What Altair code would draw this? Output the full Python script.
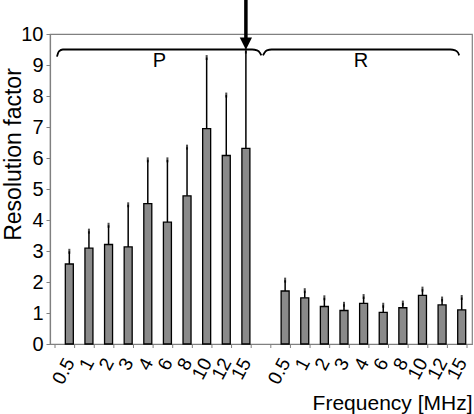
import altair as alt
import pandas as pd

# ---- data ----
freqs = ["0.5", "1", "2", "3", "4", "6", "8", "10", "12", "15"]
p_vals = [2.58, 3.09, 3.21, 3.13, 4.53, 3.93, 4.78, 6.95, 6.08, 6.31]
p_err_top = [2.99, 3.64, 3.83, 4.49, 5.94, 5.94, 6.35, 9.24, 8.03, 9.45]
r_vals = [1.71, 1.49, 1.21, 1.08, 1.31, 1.02, 1.17, 1.57, 1.26, 1.10]
r_err_top = [2.06, 1.72, 1.49, 1.28, 1.53, 1.25, 1.32, 1.77, 1.45, 1.50]
groups = ["P", "R"]
group_start = [0, 11]
n_slots = 21
bar_offset = 0.73

# brace annotation paths (x in category slots, y in data units)
brace_p_x = [0.1, 0.2, 0.4, 10.05, 10.3, 10.45, 10.52]
brace_p_y = [9.27, 9.44, 9.5, 9.5, 9.47, 9.39, 9.31]
brace_r_x = [10.6, 10.67, 10.8, 11.04, 20.15, 20.4, 20.55, 20.6]
brace_r_y = [9.31, 9.39, 9.47, 9.5, 9.5, 9.47, 9.39, 9.31]
label_x = [5.32, 15.6]
label_y = [9.14, 9.13]
arrow_x = [9.73]
arrow_top = [11.2]
arrow_bottom = [9.85]
arrow_head_y = [9.69]

FONT = "Liberation Sans"
GRAY = "#808080"

rows = []
for g, start, vals, errs in zip(groups, group_start, [p_vals, r_vals], [p_err_top, r_err_top]):
    for i, (f, v, e) in enumerate(zip(freqs, vals, errs)):
        rows.append({"group": g, "freq": f, "x": start + i + bar_offset, "value": v, "err": e})
df = pd.DataFrame(rows)

brace_rows = []
for g, xs, ys in [("P", brace_p_x, brace_p_y), ("R", brace_r_x, brace_r_y)]:
    for k, (xx, yy) in enumerate(zip(xs, ys)):
        brace_rows.append({"group": g, "k": k, "x": xx, "y": yy})
brace_df = pd.DataFrame(brace_rows)

lab_df = pd.DataFrame({"group": groups, "x": label_x, "y": label_y})
tick_df = pd.DataFrame({"x": list(range(n_slots + 1))})
arrow_df = pd.DataFrame({"x": arrow_x, "top": arrow_top, "bottom": arrow_bottom, "head": arrow_head_y})

xscale = alt.Scale(domain=[0, n_slots], nice=False, zero=False)
yscale = alt.Scale(domain=[0, 10], nice=False)

label_expr = "[" + ",".join("'%s'" % f for f in freqs) + "][round(datum.value - %s) %% 11]" % bar_offset

x_axis = alt.Axis(
    values=list(df["x"]),
    labelExpr=label_expr,
    labelAngle=-62,
    labelAlign="right",
    labelBaseline="middle",
    labelPadding=15,
    labelFontSize=19,
    labelOverlap=False,
    labelFlush=False,
    labelFont=FONT,
    labelColor="black",
    ticks=False,
    grid=False,
    domainColor=GRAY,
    domainWidth=1.2,
    title="Frequency [MHz]",
    titleFont=FONT,
    titleFontSize=21,
    titleFontWeight="normal",
    titleColor="black",
    titleAnchor="end",
    titleAlign="right",
    titleBaseline="alphabetic",
    titleY=65,
)

y_axis = alt.Axis(
    values=list(range(0, 11)),
    grid=False,
    domainColor=GRAY,
    domainWidth=1.2,
    tickColor=GRAY,
    tickSize=4,
    labelFontSize=20,
    labelFont=FONT,
    labelColor="black",
    labelPadding=3,
    title="Resolution factor",
    titleFont=FONT,
    titleFontSize=23,
    titleFontWeight="normal",
    titleColor="black",
    titleAngle=-90,
    titleAlign="center",
    titleBaseline="middle",
    titleX=-37,
    titleY=120,
)


def X(field):
    return alt.X(field, scale=xscale, axis=x_axis, title="Frequency [MHz]")


def Y(field):
    return alt.Y(field, scale=yscale, axis=y_axis, title="Resolution factor")


bars = alt.Chart(df).mark_bar(
    size=8, orient="vertical", fill="#8a8a8a", stroke="black", strokeWidth=1.3
).encode(x=X("x:Q"), y=Y("value:Q"))

err = alt.Chart(df).mark_rule(color="black", strokeWidth=1.5).encode(
    x=X("x:Q"), y=Y("value:Q"), y2="err:Q"
)

caps = alt.Chart(df).mark_tick(orient="vertical", size=5, thickness=2, color="black").encode(
    x=X("x:Q"), y=Y("err:Q")
)

ticks = alt.Chart(tick_df).mark_rule(color=GRAY, strokeWidth=1).encode(
    x=X("x:Q"), y=alt.value(310), y2=alt.value(314)
)

braces = alt.Chart(brace_df).mark_line(color="black", strokeWidth=1.8, interpolate="monotone").encode(
    x=X("x:Q"), y=Y("y:Q"), detail="group:N", order="k:Q"
)

labels = alt.Chart(lab_df).mark_text(fontSize=20, font=FONT, color="black").encode(
    x=X("x:Q"), y=Y("y:Q"), text="group:N"
)

shaft = alt.Chart(arrow_df).mark_rule(color="black", strokeWidth=3.5).encode(
    x=X("x:Q"), y=Y("top:Q"), y2="bottom:Q"
)

head = alt.Chart(arrow_df).mark_point(
    shape="M-1,-1L1,-1L0,1Z", size=150, filled=True, color="black", opacity=1
).encode(x=X("x:Q"), y=Y("head:Q"))

chart = alt.layer(ticks, bars, err, caps, braces, labels, shaft, head).properties(
    width=422,
    height=310,
    autosize=alt.AutoSizeParams(type="none"),
    padding={"left": 50, "top": 34, "right": 2, "bottom": 70},
    background="white",
).configure_view(stroke=GRAY, strokeWidth=1.2)

chart.save("out.html", embed_options={"renderer": "svg", "actions": False})
